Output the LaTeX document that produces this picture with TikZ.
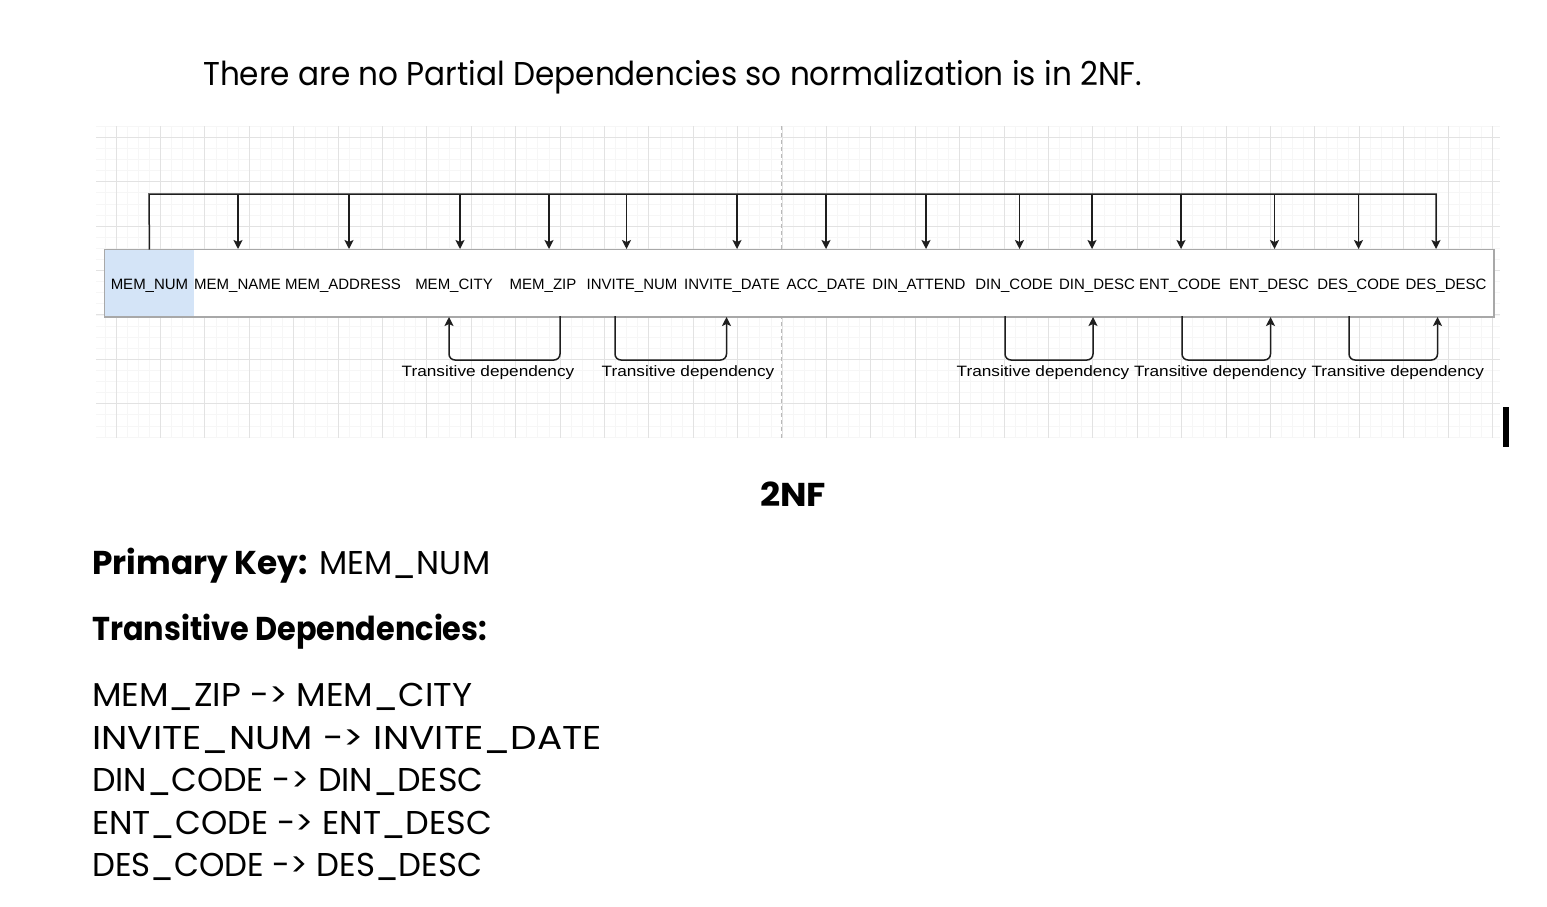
\documentclass[tikz,border=0pt]{standalone}
\usepackage{fontspec}
\usepackage{graphicx}
\setmainfont{Liberation Sans}
\newfontfamily\cfont{Poppins}
\usetikzlibrary{arrows.meta}
\definecolor{pkblue}{RGB}{212,228,247}
\definecolor{tblborder}{RGB}{168,168,168}
\definecolor{gridmaj}{RGB}{226,226,226}
\definecolor{gridmin}{RGB}{246,246,246}
\definecolor{ink}{RGB}{30,30,30}
\newcommand\fitw[2]{\resizebox{#1pt}{\height}{#2}}
\begin{document}
\begin{tikzpicture}[x=1pt,y=-1pt,
  cell/.style={inner sep=0pt, anchor=base, font=\fontsize{15}{18}\selectfont, text=black},
  tlab/.style={inner sep=0pt, anchor=base, text=black},
  bus/.style={draw=ink, line width=1.5pt, line join=miter},
  dep/.style={bus, -{Stealth[length=9pt,width=9pt,inset=2pt]}},
  tdep/.style={bus, rounded corners=6pt, -{Stealth[length=9pt,width=9pt,inset=2pt]}},
  doc/.style={inner sep=0pt, anchor=base west, text=black}]
\useasboundingbox (0,0) rectangle (1547,907);
\fill[white] (0,0) rectangle (1547,907);

% grid
\foreach \i in {0,...,125}
  \draw[gridmin, line width=0.8pt] ({104.9+11.1*\i},126) -- ({104.9+11.1*\i},438);
\foreach \j in {0,...,28}
  \draw[gridmin, line width=0.8pt] (96,{126.2+11.1*\j}) -- (1500,{126.2+11.1*\j});
\foreach \i in {0,...,31}
  \draw[gridmaj, line width=1pt] ({116+44.4*\i},126) -- ({116+44.4*\i},438);
\foreach \j in {0,...,6}
  \draw[gridmaj, line width=1pt] (96,{137.3+44.4*\j}) -- (1500,{137.3+44.4*\j});
\draw[gray!55, line width=0.8pt, dash pattern=on 4pt off 3pt] (781,126) -- (781,438);

% table
\node (tbl) [draw=tblborder, line width=1pt, fill=white, minimum width=1389pt, minimum height=67pt, anchor=north west, inner sep=0pt] at (104,249) {};
\node (pk) [fill=pkblue, minimum width=89.5pt, minimum height=66pt, anchor=north west, inner sep=0pt] at (104.5,249.5) {};
\draw[tblborder, line width=1pt] (tbl.north west) rectangle (tbl.south east);

\node (c1)  [cell] at (149.5,289) {MEM\_NUM};
\node (c2)  [cell] at (237.5,289) {MEM\_NAME};
\node (c3)  [cell] at (343,289) {MEM\_ADDRESS};
\node (c4)  [cell] at (454,289) {MEM\_CITY};
\node (c5)  [cell] at (543,289) {MEM\_ZIP};
\node (c6)  [cell] at (632,289) {INVITE\_NUM};
\node (c7)  [cell] at (732,289) {INVITE\_DATE};
\node (c8)  [cell] at (826,289) {ACC\_DATE};
\node (c9)  [cell] at (919,289) {DIN\_ATTEND};
\node (c10) [cell] at (1014,289) {DIN\_CODE};
\node (c11) [cell] at (1097,289) {DIN\_DESC};
\node (c12) [cell] at (1180,289) {ENT\_CODE};
\node (c13) [cell] at (1269,289) {ENT\_DESC};
\node (c14) [cell] at (1358.5,289) {DES\_CODE};
\node (c15) [cell] at (1446,289) {DES\_DESC};

% top dependency bus
\coordinate (bs) at (149,194);
\coordinate (be) at (1436,194);
\coordinate (dEnd) at (1436,249);
\draw[dep] (pk.north) -- (bs) -- (be) -- (dEnd);
\foreach \x [count=\k] in {238,349,460,549,626.5,737,826,926,1019.5,1092,1181,1274.5,1358.5} {
  \coordinate (u\k) at (\x,194);
  \coordinate (d\k) at (\x,249);
  \draw[dep] (u\k) -- (d\k);
}

% transitive dependencies
\coordinate (s1) at (560,316);  \coordinate (e1) at (449,317);
\coordinate (s2) at (615,316);  \coordinate (e2) at (726.5,317);
\coordinate (s3) at (1005,316); \coordinate (e3) at (1093,317);
\coordinate (s4) at (1182,316); \coordinate (e4) at (1270.5,317);
\coordinate (s5) at (1349,316); \coordinate (e5) at (1437.5,317);
\foreach \k in {1,...,5}
  \draw[tdep] (s\k) -- ++(0,44) -| (e\k);

\node (t1) [tlab] at (488,376.5) {\fitw{172.6}{\fontsize{15}{18}\selectfont Transitive dependency}};
\node (t2) [tlab] at (688,376.5) {\fitw{172.6}{\fontsize{15}{18}\selectfont Transitive dependency}};
\node (t3) [tlab] at (1043,376.5) {\fitw{172.6}{\fontsize{15}{18}\selectfont Transitive dependency}};
\node (t4) [tlab] at (1220.3,376.5) {\fitw{172.6}{\fontsize{15}{18}\selectfont Transitive dependency}};
\node (t5) [tlab] at (1397.8,376.5) {\fitw{172.6}{\fontsize{15}{18}\selectfont Transitive dependency}};

% cursor
\fill[black] (1503,407) rectangle (1509,447);

% document text
\node (title) [doc] at (203,85) {\fitw{939}{\cfont\fontsize{33}{40}\selectfont There are no Partial Dependencies so normalization is in 2NF.}};
\node (nf) [inner sep=0pt, anchor=base] at (793,506) {\fitw{66}{\cfont\bfseries\fontsize{33}{40}\selectfont 2NF}};
\node (pkl) [doc] at (92,574) {\fitw{398}{\cfont\fontsize{33}{40}\selectfont\textbf{Primary Key:} MEM\_NUM}};
\node (tdl) [doc] at (92,640) {\fitw{395}{\cfont\bfseries\fontsize{33}{40}\selectfont Transitive Dependencies:}};
\node (l1) [doc] at (92,706.7) {\fitw{380}{\cfont\fontsize{33}{40}\selectfont MEM\_ZIP -> MEM\_CITY}};
\node (l2) [doc] at (92,749) {\fitw{510}{\cfont\fontsize{33}{40}\selectfont INVITE\_NUM -> INVITE\_DATE}};
\node (l3) [doc] at (92,791.7) {\fitw{391}{\cfont\fontsize{33}{40}\selectfont DIN\_CODE -> DIN\_DESC}};
\node (l4) [doc] at (92,834.3) {\fitw{400}{\cfont\fontsize{33}{40}\selectfont ENT\_CODE -> ENT\_DESC}};
\node (l5) [doc] at (92,876.7) {\fitw{390}{\cfont\fontsize{33}{40}\selectfont DES\_CODE -> DES\_DESC}};
\end{tikzpicture}
\end{document}
